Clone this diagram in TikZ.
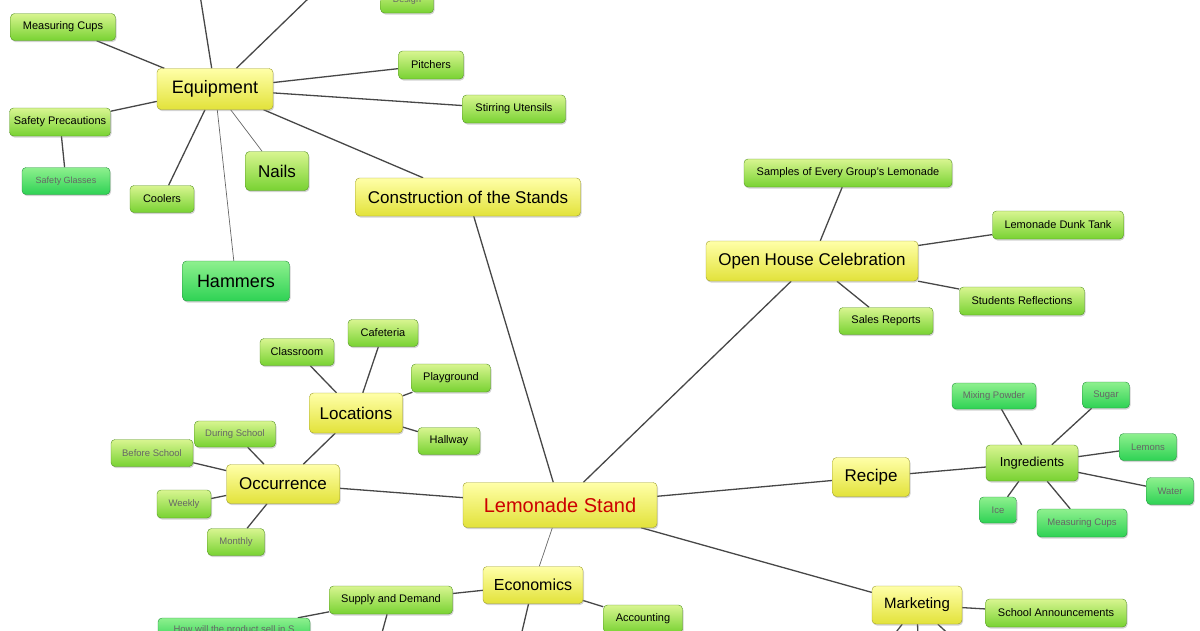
\documentclass[tikz,border=0pt]{standalone}
\usepackage{fontspec}
\setmainfont{Liberation Sans}
\usetikzlibrary{backgrounds,shadows}
\definecolor{ytop}{HTML}{FFFFA8}
\definecolor{ybot}{HTML}{E2E23A}
\definecolor{gtop}{HTML}{D8F590}
\definecolor{gbot}{HTML}{78D232}
\definecolor{dtop}{HTML}{8EF08E}
\definecolor{dbot}{HTML}{2ED254}
\tikzset{
 base/.style={rounded corners=4pt,inner sep=0pt,align=center,drop shadow={shadow xshift=1pt,shadow yshift=-1.5pt,opacity=0.35}},
 main/.style={base,draw=ybot!70!black,top color=ytop,bottom color=ybot},
 leaf/.style={base,draw=gbot!70!black,top color=gtop,bottom color=gbot,font=\fontsize{11}{13}\selectfont},
 dleaf/.style={base,draw=dbot!70!black,top color=dtop,bottom color=dbot},
 faint/.style={text=black!60},
 e/.style={draw=black!72,line width=1.3pt},
 et/.style={draw=black!60,line width=0.7pt},
}
\begin{document}
\begin{tikzpicture}[x=1pt,y=-1pt]
\useasboundingbox (0,0) rectangle (1200,630);
\clip (0,0) rectangle (1200,630);
% main nodes
\node[main,minimum width=194,minimum height=45,font=\fontsize{20}{24}\selectfont,text=red!80!black] (ls) at (560,505) {Lemonade Stand};
\node[main,minimum width=225,minimum height=38,font=\fontsize{17}{20}\selectfont] (cs) at (468,197) {Construction of the Stands};
\node[main,minimum width=116,minimum height=41,font=\fontsize{18}{22}\selectfont] (eq) at (215,89) {Equipment};
\node[main,minimum width=212,minimum height=40,font=\fontsize{17}{20}\selectfont] (oh) at (812,261) {Open House Celebration};
\node[main,minimum width=93,minimum height=40,font=\fontsize{17}{20}\selectfont] (lo) at (356,413) {Locations};
\node[main,minimum width=113,minimum height=39,font=\fontsize{17}{20}\selectfont] (oc) at (283,484) {Occurrence};
\node[main,minimum width=77,minimum height=39,font=\fontsize{17}{20}\selectfont] (re) at (871,477) {Recipe};
\node[main,minimum width=100,minimum height=37,font=\fontsize{16}{19}\selectfont] (ec) at (533,585) {Economics};
\node[main,minimum width=90,minimum height=38,font=\fontsize{15}{18}\selectfont] (ma) at (917,605) {Marketing};
% equipment leaves
\node[leaf,minimum width=105,minimum height=27] (mc) at (63,27) {Measuring Cups};
\node[leaf,minimum width=101,minimum height=28] (sp) at (60,122) {Safety Precautions};
\node[dleaf,faint,minimum width=88,minimum height=27,font=\fontsize{9}{11}\selectfont] (sg) at (66,181) {Safety Glasses};
\node[leaf,minimum width=64,minimum height=27] (co) at (162,199) {Coolers};
\node[leaf,minimum width=63,minimum height=39,font=\fontsize{17}{20}\selectfont] (na) at (277,171) {Nails};
\node[dleaf,minimum width=107,minimum height=40,font=\fontsize{18}{22}\selectfont] (ha) at (236,281) {Hammers};
\node[leaf,minimum width=65,minimum height=28] (pi) at (431,65) {Pitchers};
\node[leaf,minimum width=103,minimum height=28] (su) at (514,109) {Stirring Utensils};
\node[leaf,faint,minimum width=53,minimum height=26,font=\fontsize{9}{11}\selectfont] (de) at (407,0) {Design};
\coordinate (up1) at (200,-5);
\coordinate (up2) at (312,-5);
% open house
\node[leaf,minimum width=208,minimum height=28] (sa) at (848,173) {Samples of Every Group's Lemonade};
\node[leaf,minimum width=131,minimum height=28] (dt) at (1058,225) {Lemonade Dunk Tank};
\node[leaf,minimum width=125,minimum height=28] (sr) at (1022,301) {Students Reflections};
\node[leaf,minimum width=94,minimum height=27] (sl) at (886,321) {Sales Reports};
% locations
\node[leaf,minimum width=74,minimum height=27] (cl) at (297,352) {Classroom};
\node[leaf,minimum width=70,minimum height=27] (ca) at (383,333) {Cafeteria};
\node[leaf,minimum width=79,minimum height=28] (pg) at (451,378) {Playground};
\node[leaf,minimum width=62,minimum height=27] (hw) at (449,441) {Hallway};
% occurrence
\node[leaf,faint,minimum width=82,minimum height=27,font=\fontsize{9.5}{11}\selectfont] (bs) at (152,453) {Before School};
\node[leaf,faint,minimum width=81,minimum height=26,font=\fontsize{9.5}{11}\selectfont] (ds) at (235,434) {During School};
\node[leaf,faint,minimum width=54,minimum height=28,font=\fontsize{9.5}{11}\selectfont] (we) at (184,504) {Weekly};
\node[leaf,faint,minimum width=57,minimum height=27,font=\fontsize{9.5}{11}\selectfont] (mo) at (236,542) {Monthly};
% recipe
\node[leaf,minimum width=92,minimum height=36,font=\fontsize{13}{15}\selectfont] (in) at (1032,463) {Ingredients};
\node[dleaf,faint,minimum width=84,minimum height=26,font=\fontsize{9.5}{11}\selectfont] (mp) at (994,396) {Mixing Powder};
\node[dleaf,faint,minimum width=47,minimum height=26,font=\fontsize{9.5}{11}\selectfont] (sug) at (1106,395) {Sugar};
\node[dleaf,faint,minimum width=57,minimum height=27,font=\fontsize{9.5}{11}\selectfont] (lm) at (1148,447) {Lemons};
\node[dleaf,faint,minimum width=47,minimum height=27,font=\fontsize{9.5}{11}\selectfont] (wa) at (1170,491) {Water};
\node[dleaf,faint,minimum width=37,minimum height=26,font=\fontsize{9.5}{11}\selectfont] (ice) at (998,510) {Ice};
\node[dleaf,faint,minimum width=90,minimum height=28,font=\fontsize{9.5}{11}\selectfont] (mc2) at (1082,523) {Measuring Cups};
% economics
\node[leaf,minimum width=123,minimum height=28] (sd) at (391,600) {Supply and Demand};
\node[leaf,minimum width=79,minimum height=28] (ac) at (643,619) {Accounting};
\node[dleaf,faint,minimum width=152,minimum height=24,font=\fontsize{9.5}{11}\selectfont] (hw2) at (234,630) {How will the product sell in S};
\coordinate (ed) at (520,640);
\coordinate (sdd) at (380,640);
% marketing
\node[leaf,minimum width=141,minimum height=28] (an) at (1056,613) {School Announcements};
\coordinate (m1) at (890,640);
\coordinate (m2) at (918,640);
\coordinate (m3) at (955,640);
\begin{scope}[on background layer]
\draw[e] (ls) -- (cs);
\draw[e] (ls) -- (oh);
\draw[e] (ls) -- (oc);
\draw[e] (ls) -- (re);
\draw[et] (ls) -- (ec);
\draw[e] (ls) -- (ma);
\draw[e] (eq) -- (cs);
\draw[e] (eq) -- (mc);
\draw[e] (eq) -- (sp);
\draw[e] (sp) -- (sg);
\draw[e] (eq) -- (co);
\draw[et] (eq) -- (na);
\draw[et] (eq) -- (ha);
\draw[e] (eq) -- (pi);
\draw[e] (eq) -- (su);
\draw[e] (eq) -- (up1);
\draw[e] (eq) -- (up2);
\draw[e] (oh) -- (sa);
\draw[e] (oh) -- (dt);
\draw[e] (oh) -- (sr);
\draw[e] (oh) -- (sl);
\draw[e] (lo) -- (cl);
\draw[e] (lo) -- (ca);
\draw[e] (lo) -- (pg);
\draw[e] (lo) -- (hw);
\draw[e] (lo) -- (oc);
\draw[e] (oc) -- (bs);
\draw[e] (oc) -- (ds);
\draw[e] (oc) -- (we);
\draw[e] (oc) -- (mo);
\draw[e] (re) -- (in);
\draw[e] (in) -- (mp);
\draw[e] (in) -- (sug);
\draw[e] (in) -- (lm);
\draw[e] (in) -- (wa);
\draw[e] (in) -- (ice);
\draw[e] (in) -- (mc2);
\draw[e] (ec) -- (sd);
\draw[e] (ec) -- (ac);
\draw[e] (ec) -- (ed);
\draw[e] (sd) -- (hw2);
\draw[e] (sd) -- (sdd);
\draw[e] (ma) -- (an);
\draw[e] (ma) -- (m1);
\draw[e] (ma) -- (m2);
\draw[e] (ma) -- (m3);
\end{scope}
\end{tikzpicture}
\end{document}
